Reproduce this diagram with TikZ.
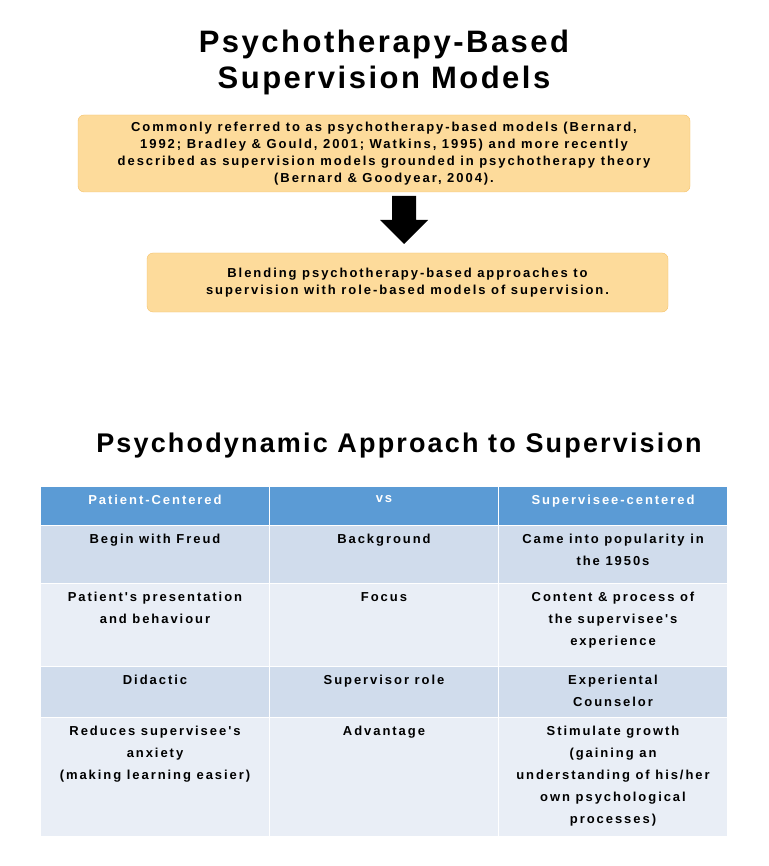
\documentclass[tikz,border=0pt]{standalone}
\usepackage{fontspec}
\setmainfont{Liberation Sans}
\newfontfamily\widefont{Liberation Sans}[LetterSpace=15]
\newfontfamily\titlefont{Liberation Sans}[LetterSpace=8]
\usetikzlibrary{positioning}
\definecolor{boxfill}{HTML}{FDDB9B}
\definecolor{boxline}{HTML}{F5C26B}
\definecolor{headblue}{HTML}{5B9BD5}
\definecolor{rowdark}{HTML}{D0DCEC}
\definecolor{rowlight}{HTML}{E9EEF6}
\tikzset{
  mybox/.style={draw=boxline,fill=boxfill,rounded corners=6pt,align=center,
    font=\widefont\fontsize{13}{17}\selectfont\bfseries,inner sep=0pt},
  mycell/.style={draw=white,line width=1pt,anchor=north west,inner sep=0pt},
  mytext/.style={anchor=north,align=center,font=\widefont\fontsize{13}{22}\selectfont\bfseries},
}
\begin{document}
\begin{tikzpicture}[x=1pt,y=-1pt]
  \useasboundingbox (0,0) rectangle (768,866);
  % titles
  \node[align=center,font=\titlefont\fontsize{31}{36}\selectfont\bfseries] (title) at (384,62)
    {Psychotherapy-Based\\Supervision Models};
  % boxes
  \node[mybox,minimum width=612pt,minimum height=77pt] (top) at (384,153.5)
    {Commonly referred to as psychotherapy-based models (Bernard,\\
     1992; Bradley \& Gould, 2001; Watkins, 1995) and more recently\\
     described as supervision models grounded in psychotherapy theory\\
     (Bernard \& Goodyear, 2004).};
  \node[mybox,minimum width=521pt,minimum height=59pt] (blend) at (407.5,282.5)
    {Blending psychotherapy-based approaches to\\
     supervision with role-based models of supervision.};
  \fill (392,196) -- (416,196) -- (416,220) -- (428,220) -- (404,244)
    -- (380,220) -- (392,220) -- cycle;
  \node[font=\titlefont\fontsize{27}{30}\selectfont\bfseries] (sub) at (399,446)
    {Psychodynamic Approach to Supervision};
  % table
  \foreach \y/\h/\c [count=\r] in {486/39/headblue,525/58/rowdark,583/83/rowlight,
      666/51/rowdark,717/119/rowlight}{
    \foreach \x [count=\k] in {40,269,498}{
      \node[mycell,fill=\c,minimum width=229pt,minimum height=\h pt] (c\r\k) at (\x,\y) {};
    }
  }
  \foreach \k/\t in {1/Patient-Centered,2/vs,3/Supervisee-centered}
    \node[mytext,text=white] at ([yshift=-6pt]c1\k.north) {\t};
  \node[mytext] at ([yshift=-6pt]c21.north) {Begin with Freud};
  \node[mytext] at ([yshift=-6pt]c22.north) {Background};
  \node[mytext] at ([yshift=-6pt]c23.north) {Came into popularity in\\the 1950s};
  \node[mytext] at ([yshift=-6pt]c31.north) {Patient's presentation\\and behaviour};
  \node[mytext] at ([yshift=-6pt]c32.north) {Focus};
  \node[mytext] at ([yshift=-6pt]c33.north) {Content \& process of\\the supervisee's\\experience};
  \node[mytext] at ([yshift=-6pt]c41.north) {Didactic};
  \node[mytext] at ([yshift=-6pt]c42.north) {Supervisor role};
  \node[mytext] at ([yshift=-6pt]c43.north) {Experiental\\Counselor};
  \node[mytext] at ([yshift=-6pt]c51.north) {Reduces supervisee's\\anxiety\\(making learning easier)};
  \node[mytext] at ([yshift=-6pt]c52.north) {Advantage};
  \node[mytext] at ([yshift=-6pt]c53.north) {Stimulate growth\\(gaining an\\understanding of his/her\\own psychological\\processes)};
\end{tikzpicture}
\end{document}
